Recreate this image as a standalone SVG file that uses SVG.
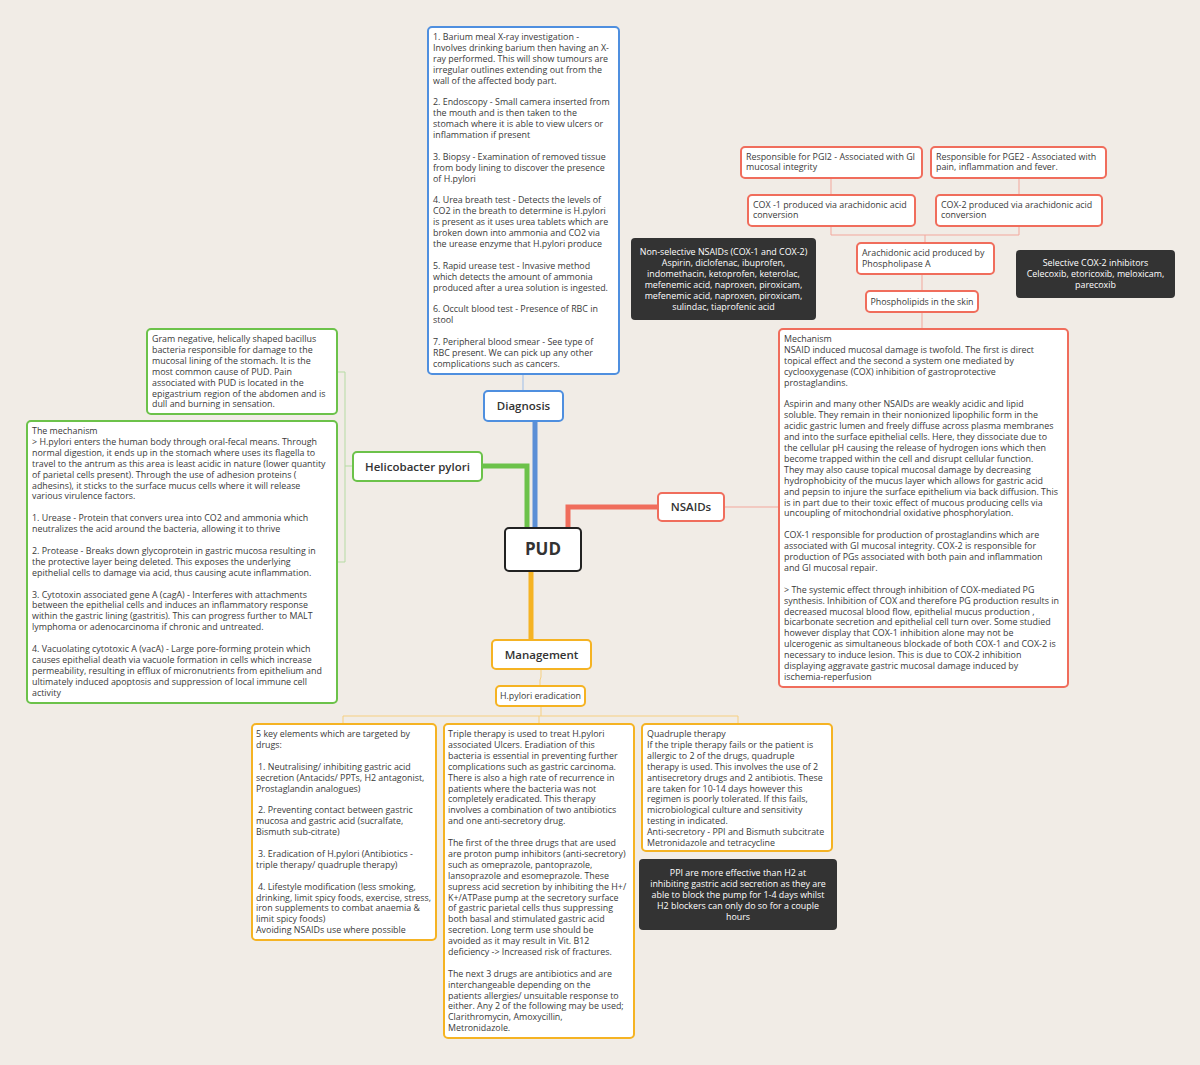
<svg xmlns="http://www.w3.org/2000/svg" width="1200" height="1065" viewBox="0 0 1200 1065">
<style>
.t{font-family:"Open Sans","Liberation Sans",sans-serif;font-size:8.9px;fill:#3a3a3a}
.c{text-anchor:middle}
.w{fill:#ffffff}
.lbl{font-family:"Open Sans","Liberation Sans",sans-serif;font-weight:600;font-size:11.5px;fill:#333;text-anchor:middle}
.box{fill:#fff;stroke-width:2}
.dark{fill:#333333;stroke:none}
.b{stroke:#4f8fdf}.g{stroke:#6cc24a}.r{stroke:#f06d5c}.o{stroke:#f5b323}
.thin{fill:none;stroke-width:1}
</style>
<rect width="1200" height="1065" fill="#f1ece6"/>
<g id="connectors">
<path d="M535,528V421" stroke="#5b8fd6" stroke-width="5" fill="none"/>
<path d="M527,528V466H482" stroke="#6cc24a" stroke-width="5" fill="none"/>
<path d="M568,528V507H658" stroke="#f06d5c" stroke-width="5" fill="none"/>
<path d="M531,571V640" stroke="#f5b323" stroke-width="5" fill="none"/>
<path class="thin" d="M523,391V374" stroke="#9dbde8"/>
<path class="thin" d="M353,466H345V372H337M345,466V562H337" stroke="#b5dba3"/>
<path class="thin" d="M724,507H779" stroke="#f3a79c"/>
<path class="thin" d="M922,329V312M922,291V274M925,243V235M831,235H1019M831,235V226M1019,235V226M831,195V178M1019,195V178" stroke="#f3a79c"/>
<path class="thin" d="M541,669V677L540,680V686M541,706V716M343,716H738M343,716V724M539,716V724M738,716V724" stroke="#f6cf80"/>
</g>
<g id="pud"><rect x="505" y="528" width="76" height="43" rx="4" fill="#fff" stroke="#222" stroke-width="2"/><text x="543" y="555" class="lbl" style="font-size:17px;font-weight:700">PUD</text></g>
<g id="diagnosis"><rect x="484" y="391" width="79" height="30" rx="4" class="box b"/><text x="523.5" y="410" class="lbl">Diagnosis</text></g>
<g id="diagnosis-detail"><rect x="428" y="27" width="191" height="347" rx="4" class="box b"/>
<text class="t" x="433" y="40"><tspan x="433">1. Barium meal X-ray investigation -</tspan><tspan x="433" dy="10.9">Involves drinking barium then having an X-</tspan><tspan x="433" dy="10.9">ray performed. This will show tumours are</tspan><tspan x="433" dy="10.9">irregular outlines extending out from the</tspan><tspan x="433" dy="10.9">wall of the affected body part.</tspan><tspan x="433" dy="21.8">2. Endoscopy - Small camera inserted from</tspan><tspan x="433" dy="10.9">the mouth and is then taken to the</tspan><tspan x="433" dy="10.9">stomach where it is able to view ulcers or</tspan><tspan x="433" dy="10.9">inflammation if present</tspan><tspan x="433" dy="21.8">3. Biopsy - Examination of removed tissue</tspan><tspan x="433" dy="10.9">from body lining to discover the presence</tspan><tspan x="433" dy="10.9">of H.pylori</tspan><tspan x="433" dy="21.8">4. Urea breath test - Detects the levels of</tspan><tspan x="433" dy="10.9">CO2 in the breath to determine is H.pylori</tspan><tspan x="433" dy="10.9">is present as it uses urea tablets which are</tspan><tspan x="433" dy="10.9">broken down into ammonia and CO2 via</tspan><tspan x="433" dy="10.9">the urease enzyme that H.pylori produce</tspan><tspan x="433" dy="21.8">5. Rapid urease test - Invasive method</tspan><tspan x="433" dy="10.9">which detects the amount of ammonia</tspan><tspan x="433" dy="10.9">produced after a urea solution is ingested.</tspan><tspan x="433" dy="21.8">6. Occult blood test - Presence of RBC in</tspan><tspan x="433" dy="10.9">stool</tspan><tspan x="433" dy="21.8">7. Peripheral blood smear - See type of</tspan><tspan x="433" dy="10.9">RBC present. We can pick up any other</tspan><tspan x="433" dy="10.9">complications such as cancers.</tspan></text></g>
<g id="hpylori"><rect x="353" y="452" width="129" height="29" rx="4" class="box g"/><text x="417.5" y="470.5" class="lbl">Helicobacter pylori</text></g>
<g id="hpylori-def"><rect x="147" y="329" width="190" height="85" rx="4" class="box g"/>
<text class="t" x="152" y="342"><tspan x="152">Gram negative, helically shaped bacillus</tspan><tspan x="152" dy="10.9">bacteria responsible for damage to the</tspan><tspan x="152" dy="10.9">mucosal lining of the stomach. It is the</tspan><tspan x="152" dy="10.9">most common cause of PUD. Pain</tspan><tspan x="152" dy="10.9">associated with PUD is located in the</tspan><tspan x="152" dy="10.9">epigastrium region of the abdomen and is</tspan><tspan x="152" dy="10.9">dull and burning in sensation.</tspan></text></g>
<g id="hpylori-mech"><rect x="27" y="421" width="310" height="282" rx="4" class="box g"/>
<text class="t" x="32" y="434"><tspan x="32">The mechanism</tspan><tspan x="32" dy="10.9">&gt; H.pylori enters the human body through oral-fecal means. Through</tspan><tspan x="32" dy="10.9">normal digestion, it ends up in the stomach where uses its flagella to</tspan><tspan x="32" dy="10.9">travel to the antrum as this area is least acidic in nature (lower quantity</tspan><tspan x="32" dy="10.9">of parietal cells present). Through the use of adhesion proteins (</tspan><tspan x="32" dy="10.9">adhesins), it sticks to the surface mucus cells where it will release</tspan><tspan x="32" dy="10.9">various virulence factors.</tspan><tspan x="32" dy="21.8">1. Urease - Protein that convers urea into CO2 and ammonia which</tspan><tspan x="32" dy="10.9">neutralizes the acid around the bacteria, allowing it to thrive</tspan><tspan x="32" dy="21.8">2. Protease - Breaks down glycoprotein in gastric mucosa resulting in</tspan><tspan x="32" dy="10.9">the protective layer being deleted. This exposes the underlying</tspan><tspan x="32" dy="10.9">epithelial cells to damage via acid, thus causing acute inflammation.</tspan><tspan x="32" dy="21.8">3. Cytotoxin associated gene A (cagA) - Interferes with attachments</tspan><tspan x="32" dy="10.9">between the epithelial cells and induces an inflammatory response</tspan><tspan x="32" dy="10.9">within the gastric lining (gastritis). This can progress further to MALT</tspan><tspan x="32" dy="10.9">lymphoma or adenocarcinoma if chronic and untreated.</tspan><tspan x="32" dy="21.8">4. Vacuolating cytotoxic A (vacA) - Large pore-forming protein which</tspan><tspan x="32" dy="10.9">causes epithelial death via vacuole formation in cells which increase</tspan><tspan x="32" dy="10.9">permeability, resulting in efflux of micronutrients from epithelium and</tspan><tspan x="32" dy="10.9">ultimately induced apoptosis and suppression of local immune cell</tspan><tspan x="32" dy="10.9">activity</tspan></text></g>
<g id="nsaids"><rect x="658" y="493" width="66" height="28" rx="4" class="box r"/><text x="691" y="511" class="lbl">NSAIDs</text></g>
<g id="nsaids-mech"><rect x="779" y="329" width="289" height="358" rx="4" class="box r"/>
<text class="t" x="784" y="342"><tspan x="784">Mechanism</tspan><tspan x="784" dy="10.9">NSAID induced mucosal damage is twofold. The first is direct</tspan><tspan x="784" dy="10.9">topical effect and the second a system one mediated by</tspan><tspan x="784" dy="10.9">cyclooxygenase (COX) inhibition of gastroprotective</tspan><tspan x="784" dy="10.9">prostaglandins.</tspan><tspan x="784" dy="21.8">Aspirin and many other NSAIDs are weakly acidic and lipid</tspan><tspan x="784" dy="10.9">soluble. They remain in their nonionized lipophilic form in the</tspan><tspan x="784" dy="10.9">acidic gastric lumen and freely diffuse across plasma membranes</tspan><tspan x="784" dy="10.9">and into the surface epithelial cells. Here, they dissociate due to</tspan><tspan x="784" dy="10.9">the cellular pH causing the release of hydrogen ions which then</tspan><tspan x="784" dy="10.9">become trapped within the cell and disrupt cellular function.</tspan><tspan x="784" dy="10.9">They may also cause topical mucosal damage by decreasing</tspan><tspan x="784" dy="10.9">hydrophobicity of the mucus layer which allows for gastric acid</tspan><tspan x="784" dy="10.9">and pepsin to injure the surface epithelium via back diffusion. This</tspan><tspan x="784" dy="10.9">is in part due to their toxic effect of mucous producing cells via</tspan><tspan x="784" dy="10.9">uncoupling of mitochondrial oxidative phosphorylation.</tspan><tspan x="784" dy="21.8">COX-1 responsible for production of prostaglandins which are</tspan><tspan x="784" dy="10.9">associated with GI mucosal integrity. COX-2 is responsible for</tspan><tspan x="784" dy="10.9">production of PGs associated with both pain and inflammation</tspan><tspan x="784" dy="10.9">and GI mucosal repair.</tspan><tspan x="784" dy="21.8">&gt; The systemic effect through inhibition of COX-mediated PG</tspan><tspan x="784" dy="10.9">synthesis. Inhibition of COX and therefore PG production results in</tspan><tspan x="784" dy="10.9">decreased mucosal blood flow, epithelial mucus production ,</tspan><tspan x="784" dy="10.9">bicarbonate secretion and epithelial cell turn over. Some studied</tspan><tspan x="784" dy="10.9">however display that COX-1 inhibition alone may not be</tspan><tspan x="784" dy="10.9">ulcerogenic as simultaneous blockade of both COX-1 and COX-2 is</tspan><tspan x="784" dy="10.9">necessary to induce lesion. This is due to COX-2 inhibition</tspan><tspan x="784" dy="10.9">displaying aggravate gastric mucosal damage induced by</tspan><tspan x="784" dy="10.9">ischemia-reperfusion</tspan></text></g>
<g id="phospholipids"><rect x="866" y="291" width="112" height="21" rx="4" class="box r"/><text class="t c" x="922" y="304.5">Phospholipids in the skin</text></g>
<g id="arachidonic"><rect x="857" y="243" width="137" height="31" rx="4" class="box r"/><text class="t" x="862" y="256"><tspan x="862">Arachidonic acid produced by</tspan><tspan x="862" dy="10.9">Phospholipase A</tspan></text></g>
<g id="cox1"><rect x="748" y="195" width="167" height="31" rx="4" class="box r"/><text class="t" x="753" y="207.5"><tspan x="753">COX -1 produced via arachidonic acid</tspan><tspan x="753" dy="10.9">conversion</tspan></text></g>
<g id="cox2"><rect x="936" y="195" width="166" height="31" rx="4" class="box r"/><text class="t" x="941" y="207.5"><tspan x="941">COX-2 produced via arachidonic acid</tspan><tspan x="941" dy="10.9">conversion</tspan></text></g>
<g id="pgi2"><rect x="741" y="147" width="181" height="31" rx="4" class="box r"/><text class="t" x="746" y="159.5"><tspan x="746">Responsible for PGI2 - Associated with GI</tspan><tspan x="746" dy="10.9">mucosal integrity</tspan></text></g>
<g id="pge2"><rect x="931" y="147" width="175" height="31" rx="4" class="box r"/><text class="t" x="936" y="159.5"><tspan x="936">Responsible for PGE2 - Associated with</tspan><tspan x="936" dy="10.9">pain, inflammation and fever.</tspan></text></g>
<g id="nonselective"><rect x="631" y="238" width="185" height="82" rx="4" class="dark"/><text class="t w c" x="723.5" y="255"><tspan x="723.5">Non-selective NSAIDs (COX-1 and COX-2)</tspan><tspan x="723.5" dy="10.9">Aspirin, diclofenac, ibuprofen,</tspan><tspan x="723.5" dy="10.9">indomethacin, ketoprofen, keterolac,</tspan><tspan x="723.5" dy="10.9">mefenemic acid, naproxen, piroxicam,</tspan><tspan x="723.5" dy="10.9">mefenemic acid, naproxen, piroxicam,</tspan><tspan x="723.5" dy="10.9">sulindac, tiaprofenic acid</tspan></text></g>
<g id="selective"><rect x="1016" y="250" width="159" height="48" rx="4" class="dark"/><text class="t w c" x="1095.5" y="266"><tspan x="1095.5">Selective COX-2 inhibitors</tspan><tspan x="1095.5" dy="10.9">Celecoxib, etoricoxib, meloxicam,</tspan><tspan x="1095.5" dy="10.9">parecoxib</tspan></text></g>
<g id="management"><rect x="492" y="640" width="99" height="29" rx="4" class="box o"/><text x="541.5" y="658.5" class="lbl">Management</text></g>
<g id="eradication"><rect x="496" y="686" width="89" height="20" rx="4" class="box o"/><text class="t c" x="540.5" y="699">H.pylori eradication</text></g>
<g id="key-elements"><rect x="252" y="724" width="184" height="216" rx="4" class="box o"/>
<text class="t" x="256" y="737"><tspan x="256">5 key elements which are targeted by</tspan><tspan x="256" dy="10.9">drugs:</tspan><tspan x="258" dy="21.8">1. Neutralising/ inhibiting gastric acid</tspan><tspan x="256" dy="10.9">secretion (Antacids/ PPTs, H2 antagonist,</tspan><tspan x="256" dy="10.9">Prostaglandin analogues)</tspan><tspan x="258" dy="21.8">2. Preventing contact between gastric</tspan><tspan x="256" dy="10.9">mucosa and gastric acid (sucralfate,</tspan><tspan x="256" dy="10.9">Bismuth sub-citrate)</tspan><tspan x="258" dy="21.8">3. Eradication of H.pylori (Antibiotics -</tspan><tspan x="256" dy="10.9">triple therapy/ quadruple therapy)</tspan><tspan x="258" dy="21.8">4. Lifestyle modification (less smoking,</tspan><tspan x="256" dy="10.9">drinking, limit spicy foods, exercise, stress,</tspan><tspan x="256" dy="10.9">iron supplements to combat anaemia &amp;</tspan><tspan x="256" dy="10.9">limit spicy foods)</tspan><tspan x="256" dy="10.9">Avoiding NSAIDs use where possible</tspan></text></g>
<g id="triple"><rect x="444" y="724" width="190" height="314" rx="4" class="box o"/>
<text class="t" x="448" y="737"><tspan x="448">Triple therapy is used to treat H.pylori</tspan><tspan x="448" dy="10.9">associated Ulcers. Eradiation of this</tspan><tspan x="448" dy="10.9">bacteria is essential in preventing further</tspan><tspan x="448" dy="10.9">complications such as gastric carcinoma.</tspan><tspan x="448" dy="10.9">There is also a high rate of recurrence in</tspan><tspan x="448" dy="10.9">patients where the bacteria was not</tspan><tspan x="448" dy="10.9">completely eradicated. This therapy</tspan><tspan x="448" dy="10.9">involves a combination of two antibiotics</tspan><tspan x="448" dy="10.9">and one anti-secretory drug.</tspan><tspan x="448" dy="21.8">The first of the three drugs that are used</tspan><tspan x="448" dy="10.9">are proton pump inhibitors (anti-secretory)</tspan><tspan x="448" dy="10.9">such as omeprazole, pantoprazole,</tspan><tspan x="448" dy="10.9">lansoprazole and esomeprazole. These</tspan><tspan x="448" dy="10.9">supress acid secretion by inhibiting the H+/</tspan><tspan x="448" dy="10.9">K+/ATPase pump at the secretory surface</tspan><tspan x="448" dy="10.9">of gastric parietal cells thus suppressing</tspan><tspan x="448" dy="10.9">both basal and stimulated gastric acid</tspan><tspan x="448" dy="10.9">secretion. Long term use should be</tspan><tspan x="448" dy="10.9">avoided as it may result in Vit. B12</tspan><tspan x="448" dy="10.9">deficiency -&gt; Increased risk of fractures.</tspan><tspan x="448" dy="21.8">The next 3 drugs are antibiotics and are</tspan><tspan x="448" dy="10.9">interchangeable depending on the</tspan><tspan x="448" dy="10.9">patients allergies/ unsuitable response to</tspan><tspan x="448" dy="10.9">either. Any 2 of the following may be used;</tspan><tspan x="448" dy="10.9">Clarithromycin, Amoxycillin,</tspan><tspan x="448" dy="10.9">Metronidazole.</tspan></text></g>
<g id="quadruple"><rect x="642" y="724" width="190" height="127" rx="4" class="box o"/>
<text class="t" x="647" y="737"><tspan x="647">Quadruple therapy</tspan><tspan x="647" dy="10.9">If the triple therapy fails or the patient is</tspan><tspan x="647" dy="10.9">allergic to 2 of the drugs, quadruple</tspan><tspan x="647" dy="10.9">therapy is used. This involves the use of 2</tspan><tspan x="647" dy="10.9">antisecretory drugs and 2 antibiotis. These</tspan><tspan x="647" dy="10.9">are taken for 10-14 days however this</tspan><tspan x="647" dy="10.9">regimen is poorly tolerated. If this fails,</tspan><tspan x="647" dy="10.9">microbiological culture and sensitivity</tspan><tspan x="647" dy="10.9">testing in indicated.</tspan><tspan x="647" dy="10.9">Anti-secretory - PPI and Bismuth subcitrate</tspan><tspan x="647" dy="10.9">Metronidazole and tetracycline</tspan></text></g>
<g id="ppi-note"><rect x="639" y="859" width="198" height="71" rx="4" class="dark"/><text class="t w c" x="738" y="876"><tspan x="738">PPI are more effective than H2 at</tspan><tspan x="738" dy="10.9">inhibiting gastric acid secretion as they are</tspan><tspan x="738" dy="10.9">able to block the pump for 1-4 days whilst</tspan><tspan x="738" dy="10.9">H2 blockers can only do so for a couple</tspan><tspan x="738" dy="10.9">hours</tspan></text></g>
</svg>
